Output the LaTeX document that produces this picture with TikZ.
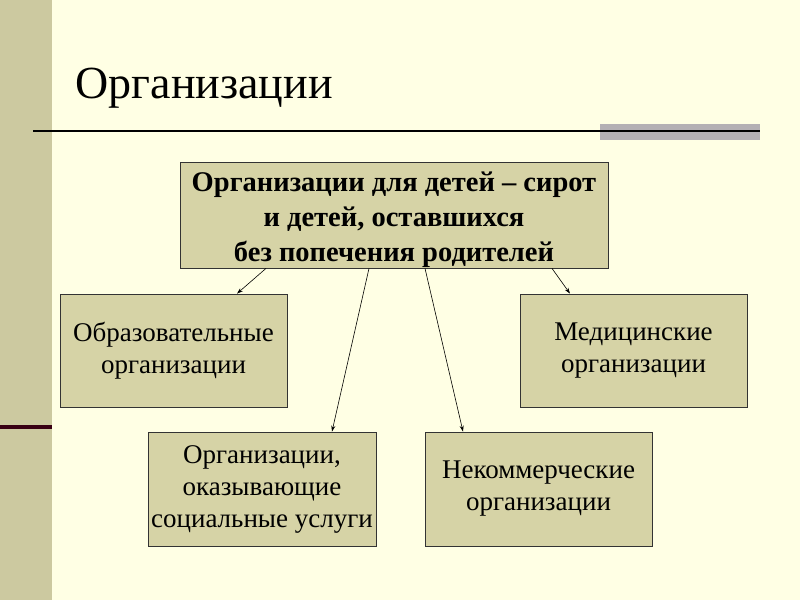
\documentclass[tikz,border=0pt]{standalone}
\usepackage{fontspec}
\setmainfont{Liberation Serif}
\begin{document}
\begin{tikzpicture}[x=1pt,y=-1pt,
  box/.style={draw=black!80,line width=0.8pt,fill=boxc,align=center,inner sep=0pt,font=\fontsize{27}{32}\selectfont},
  arr/.style={-{Stealth[length=6pt,width=4pt]},line width=0.6pt}]
\usetikzlibrary{arrows.meta}
\definecolor{bg}{HTML}{FFFFE4}
\definecolor{barc}{HTML}{CCC9A0}
\definecolor{boxc}{HTML}{D6D3A6}
\definecolor{grayb}{HTML}{B4B0B4}
\fill[bg] (0,0) rectangle (800,600);
\useasboundingbox (0,0) rectangle (800,600);
\fill[barc] (0,0) rectangle (52,600);
\fill[black!70!purple] (0,425) rectangle (52,429);
\fill[grayb] (600,124) rectangle (760,140);
\draw[line width=1.2pt] (33,131) -- (760,131);
\node[anchor=west,font=\fontsize{46}{52}\selectfont] (title) at (72,88) {Организации};
\node[box,minimum width=428,minimum height=106,font=\bfseries\fontsize{28.5}{35}\selectfont] (top) at (394,215) {\\[-6pt]Организации для детей – сирот\\и детей, оставшихся\\без попечения родителей};
\node[box,minimum width=227,minimum height=113] (b1) at (173.5,350.5) {Образовательные\\организации};
\node[box,minimum width=227,minimum height=113] (b2) at (633.5,350.5) {Медицинские\\ организации};
\node[box,minimum width=228,minimum height=114] (b3) at (262,489) {Организации,\\оказывающие\\социальные услуги};
\node[box,minimum width=227,minimum height=114] (b4) at (538.5,489) {Некоммерческие\\ организации};
\draw[arr] (top.south -| 266,0) -- (b1.north -| 237,0);
\draw[arr] (top.south -| 369,0) -- (b3.north -| 332,0);
\draw[arr] (top.south -| 425,0) -- (b4.north -| 463,0);
\draw[arr] (top.south -| 552,0) -- (b2.north -| 570,0);
\end{tikzpicture}
\end{document}
